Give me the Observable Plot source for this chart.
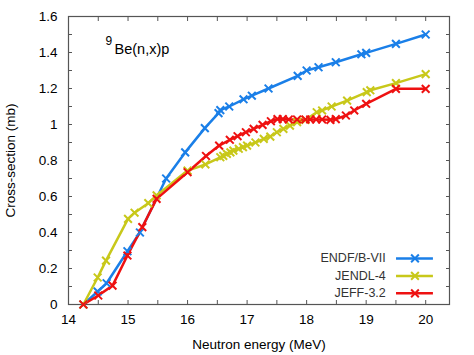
<!DOCTYPE html>
<html>
<head>
<meta charset="utf-8">
<script src="https://cdn.jsdelivr.net/npm/d3@7"></script>
<script src="https://cdn.jsdelivr.net/npm/@observablehq/plot@0.6"></script>
<style>
  html, body { margin: 0; padding: 0; background: #fff; }
  #chart svg { display: block; }
</style>
</head>
<body>
<div id="chart"></div>
<script>
// ---- data ----
const seriesNames = ["ENDF/B-VII", "JENDL-4", "JEFF-3.2"];
const seriesColors = ["#1a7fe8", "#c8c81a", "#ee1111"];

const endfX = [14.25,14.49,14.64,14.99,15.2,15.64,15.96,16.29,16.52,16.55,16.7,16.94,17.08,17.36,17.85,18.0,18.2,18.49,18.92,19.0,19.5,20.0];
const endfY = [0,0.072,0.118,0.296,0.40,0.70,0.845,0.98,1.063,1.08,1.10,1.14,1.16,1.20,1.27,1.30,1.318,1.346,1.39,1.398,1.448,1.50];

const jendlX = [14.25,14.49,14.63,15.0,15.11,15.34,15.48,16.0,16.3,16.55,16.6,16.66,16.72,16.77,16.86,16.93,17.0,17.14,17.28,17.39,17.5,17.61,17.72,17.84,17.98,18.17,18.26,18.42,18.68,19.01,19.07,19.5,20.0];
const jendlY = [0,0.15,0.244,0.476,0.51,0.563,0.606,0.744,0.778,0.818,0.826,0.837,0.845,0.855,0.865,0.874,0.883,0.90,0.92,0.933,0.957,0.976,0.994,1.013,1.026,1.068,1.078,1.10,1.133,1.18,1.19,1.23,1.28];

const jeffX = [14.25,14.5,14.74,14.99,15.24,15.48,16.0,16.31,16.53,16.71,16.84,16.98,17.11,17.26,17.40,17.51,17.6,17.70,17.84,17.98,18.06,18.16,18.26,18.40,18.49,18.66,18.80,19.0,19.5,20.0];
const jeffY = [0,0.05,0.105,0.272,0.43,0.587,0.735,0.825,0.883,0.915,0.935,0.957,0.976,0.998,1.018,1.03,1.03,1.028,1.028,1.028,1.028,1.028,1.028,1.026,1.03,1.05,1.078,1.115,1.198,1.198];

const xTickLabels = [14, 15, 16, 17, 18, 19, 20];
const yTickLabels = [0, 0.2, 0.4, 0.6, 0.8, 1, 1.2, 1.4, 1.6];
const xMinorTicks = d3.range(14, 20.41, 0.5);
const yMinorTicks = d3.range(0, 1.601, 0.1);

const titleMain = "Be(n,x)p";
const titleSup = "9";
const xLabel = "Neutron energy (MeV)";
const yLabel = "Cross-section (mb)";

// ---- build table ----
const allX = [endfX, jendlX, jeffX];
const allY = [endfY, jendlY, jeffY];
const rows = [];
seriesNames.forEach((name, i) => {
  allX[i].forEach((x, j) => rows.push({series: name, x, y: allY[i][j]}));
});

// legend rows (layout in scale space, bottom-right inside the frame)
const legend = seriesNames.map((name, i) => ({
  series: name,
  ly: 0.256 - i * 0.097,
  tx: 19.33, x1: 19.51, x2: 20.13, mx: 19.82
}));

const font = "Liberation Sans, Arial, Helvetica, sans-serif";

const chart = Plot.plot({
  width: 474,
  height: 355,
  marginLeft: 68,
  marginRight: 25,
  marginTop: 16,
  marginBottom: 51,
  style: {fontFamily: font, fontSize: "13px", color: "#000", background: "#fff"},
  x: {domain: [14, 20.4]},
  y: {domain: [0, 1.6]},
  color: {domain: seriesNames, range: seriesColors},
  marks: [
    Plot.frame({stroke: "#555", strokeWidth: 1.2}),
    // minor inward ticks
    Plot.axisX(xMinorTicks, {anchor: "bottom", tickSize: -4, text: null, label: null, stroke: "#555"}),
    Plot.axisX(xMinorTicks, {anchor: "top", tickSize: -4, text: null, label: null, stroke: "#555"}),
    Plot.axisY(yMinorTicks, {anchor: "left", tickSize: -4, text: null, label: null, stroke: "#555"}),
    Plot.axisY(yMinorTicks, {anchor: "right", tickSize: -4, text: null, label: null, stroke: "#555"}),
    // labels
    Plot.axisX(xTickLabels, {anchor: "bottom", tickSize: 0, tickPadding: 10, fontSize: 13.5, label: xLabel, labelAnchor: "center", labelArrow: "none", labelOffset: 44, tickFormat: d => String(d)}),
    Plot.axisY(yTickLabels, {anchor: "left", tickSize: 0, tickPadding: 11, fontSize: 13.5, label: yLabel, labelAnchor: "center", labelArrow: "none", labelOffset: 63, tickFormat: d => String(d)}),
    // series
    Plot.line(rows, {x: "x", y: "y", z: "series", stroke: "series", strokeWidth: 2.5}),
    Plot.dot(rows, {x: "x", y: "y", stroke: "series", symbol: "times", r: 3.6, strokeWidth: 2}),
    // legend
    Plot.text(legend, {x: "tx", y: "ly", text: "series", textAnchor: "end", fill: "#333", fontSize: 12.5}),
    Plot.ruleY(legend, {y: "ly", x1: "x1", x2: "x2", stroke: "series", strokeWidth: 2.5}),
    Plot.dot(legend, {x: "mx", y: "ly", stroke: "series", symbol: "times", r: 3.6, strokeWidth: 2}),
    // title
    Plot.text([titleSup], {frameAnchor: "top-left", dx: 37, dy: 20, text: d => d, fontSize: 12, textAnchor: "start"}),
    Plot.text([titleMain], {frameAnchor: "top-left", dx: 46, dy: 27, text: d => d, fontSize: 14.5, textAnchor: "start"}),
  ]
});
document.getElementById("chart").append(chart);
</script>
</body>
</html>
